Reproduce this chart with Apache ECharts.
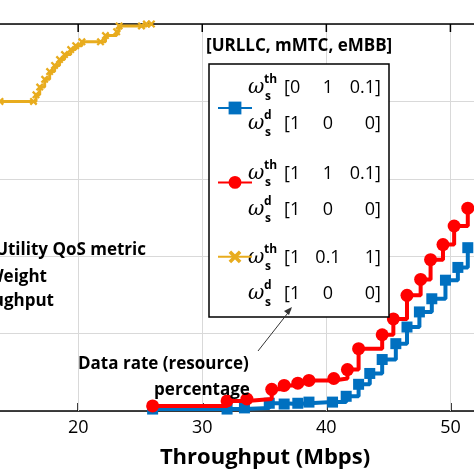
<!DOCTYPE html><html><head><meta charset="utf-8"><script src="https://cdn.jsdelivr.net/npm/echarts@6/dist/echarts.min.js"></script>
<style>html,body{margin:0;padding:0;background:#fff}#c{width:474px;height:474px}</style></head><body><div id="c"></div><script>
const xTicks=[20,30,40,50];
const yellowX=[13.7,16.4,16.6,16.9,17.3,17.7,18.1,18.5,18.9,19.4,19.8,20.3,21.8,22.2,23.1,23.3,25.1,25.5,25.9];
const yellowY=[0.8,0.8,0.817,0.837,0.857,0.877,0.893,0.908,0.921,0.934,0.944,0.954,0.954,0.97,0.98,0.995,0.995,1.0,1.0];
const redX=[26.0,32.0,33.6,35.6,36.6,37.7,38.6,40.6,41.7,42.6,44.5,45.4,46.5,47.6,48.4,49.4,50.3,51.4,52.4];
const redY=[0.013,0.026,0.031,0.056,0.066,0.072,0.079,0.084,0.107,0.161,0.197,0.238,0.299,0.34,0.391,0.43,0.478,0.524,0.57];
const blueX=[26.0,32.0,33.4,35.4,36.6,37.7,38.6,40.5,41.6,42.6,43.5,44.5,45.6,46.5,47.5,48.5,49.6,50.6,51.4];
const blueY=[0.005,0.005,0.008,0.02,0.018,0.02,0.023,0.023,0.038,0.069,0.097,0.133,0.174,0.217,0.256,0.29,0.338,0.371,0.422];
const legendRows=[['th','0','1','0.1]'],['d','1','0','0]'],['th','1','1','0.1]'],['d','1','0','0]'],['th','1','0.1','1]'],['d','1','0','0]']];
const pair=(xs,ys)=>xs.map((v,i)=>[v,ys[i]]);
const ch=echarts.init(document.getElementById('c'));
const bold='"Open Sans", sans-serif';
const g=[];
g.push({type:'rect',shape:{x:209,y:64,width:180,height:253},style:{fill:'#fff',stroke:'#000',lineWidth:1.5},z:50});
g.push({type:'text',x:206,y:38,style:{text:'[URLLC, mMTC, eMBB]',font:'bold 17px '+bold,fill:'#000'},z:51});
const rowY=[88,124,174,210,258,294];
legendRows.forEach((r,i)=>{
 const y=rowY[i];
 g.push({type:'text',x:248,y:y,style:{text:'ω',font:'italic 20px "DejaVu Serif", serif',fill:'#000',textVerticalAlign:'middle'},z:51});
 g.push({type:'text',x:264,y:y-8,style:{text:r[0],font:'bold 12px '+bold,fill:'#000',textVerticalAlign:'middle'},z:51});
 g.push({type:'text',x:265,y:y+9,style:{text:'s',font:'bold 12px '+bold,fill:'#000',textVerticalAlign:'middle'},z:51});
 g.push({type:'text',x:284,y:y,style:{text:'['+r[1],font:'18px '+bold,fill:'#000',textVerticalAlign:'middle'},z:51});
 g.push({type:'text',x:328,y:y,style:{text:r[2],font:'18px '+bold,fill:'#000',textVerticalAlign:'middle',textAlign:'center'},z:51});
 g.push({type:'text',x:381,y:y,style:{text:r[3],font:'18px '+bold,fill:'#000',textVerticalAlign:'middle',textAlign:'right'},z:51});
});
const ann='bold 17px '+bold;
g.push({type:'text',x:146,y:250,style:{text:'Utility QoS metric',font:ann,fill:'#000',textAlign:'right',textVerticalAlign:'middle'},z:51});
g.push({type:'text',x:47,y:277,style:{text:'Weight',font:ann,fill:'#000',textAlign:'right',textVerticalAlign:'middle'},z:51});
g.push({type:'text',x:54,y:301,style:{text:'Throughput',font:ann,fill:'#000',textAlign:'right',textVerticalAlign:'middle'},z:51});
g.push({type:'text',x:78,y:364,style:{text:'Data rate (resource)',font:ann,fill:'#000',textVerticalAlign:'middle'},z:51});
g.push({type:'text',x:202,y:390,style:{text:'percentage',font:ann,fill:'#000',textAlign:'center',textVerticalAlign:'middle'},z:51});
g.push({type:'line',shape:{x1:258,y1:351,x2:291,y2:309},style:{stroke:'#333',lineWidth:1},z:51});
g.push({type:'polygon',shape:{points:[[292,307],[284,311],[289,315]]},style:{fill:'#333'},z:51});
g.push({type:'line',shape:{x1:0,y1:24,x2:474,y2:24},style:{stroke:'#000',lineWidth:1.5},z:3});
ch.setOption({
 animation:false,
 grid:{left:0,right:0,top:24,bottom:59},
 xAxis:{type:'value',min:13.7,max:51.9,
  axisLine:{lineStyle:{color:'#000',width:1.5}},axisTick:{inside:true,length:8,customValues:xTicks,lineStyle:{color:'#000',width:1.5}},
  axisLabel:{color:'#000',fontSize:18,fontFamily:bold,margin:8,customValues:xTicks},
  splitLine:{show:false},
  name:'Throughput (Mbps)',nameLocation:'middle',nameGap:36,nameTextStyle:{fontSize:22,fontWeight:'bold',color:'#000',fontFamily:bold,padding:[0,0,0,56]}},
 yAxis:{type:'value',min:0,max:1,interval:0.2,axisLine:{show:false},axisTick:{show:false},axisLabel:{show:false},
  splitLine:{show:true,lineStyle:{color:'#d9d9d9',width:1}}},
 graphic:g,
 legend:{show:true,orient:'vertical',left:212,top:95,itemGap:60,itemWidth:34,itemHeight:16,formatter:()=>'',textStyle:{fontSize:1},z:60,zlevel:1},
 series:[
  {name:'s1',type:'line',step:'end',data:pair(blueX,blueY),symbol:'rect',symbolSize:11,lineStyle:{color:'#0070c0',width:4},itemStyle:{color:'#0070c0'},z:5,
   markLine:{silent:true,symbol:'none',label:{show:false},lineStyle:{color:'#d9d9d9',width:1,type:'solid'},data:xTicks.map(v=>({xAxis:v})),z:1}},
  {name:'s2',type:'line',step:'end',data:pair(redX,redY),symbol:'circle',symbolSize:13,lineStyle:{color:'#ff0000',width:4},itemStyle:{color:'#ff0000'},z:6},
  {name:'s3',type:'line',step:'end',data:pair(yellowX,yellowY),symbol:'path://M0,4L4,0L5,1L1,5ZM4,5L0,1L1,0L5,4Z',symbolSize:8,lineStyle:{color:'#e8ac1e',width:3},itemStyle:{color:'#e8ac1e'},z:4}
 ]
});
ch.setOption({graphic:g.concat(xTicks.map(v=>{const x=ch.convertToPixel({xAxisIndex:0},v);return {type:'line',shape:{x1:x,y1:24,x2:x,y2:32},style:{stroke:'#000',lineWidth:1.5},z:3};}))});
</script></body></html>
